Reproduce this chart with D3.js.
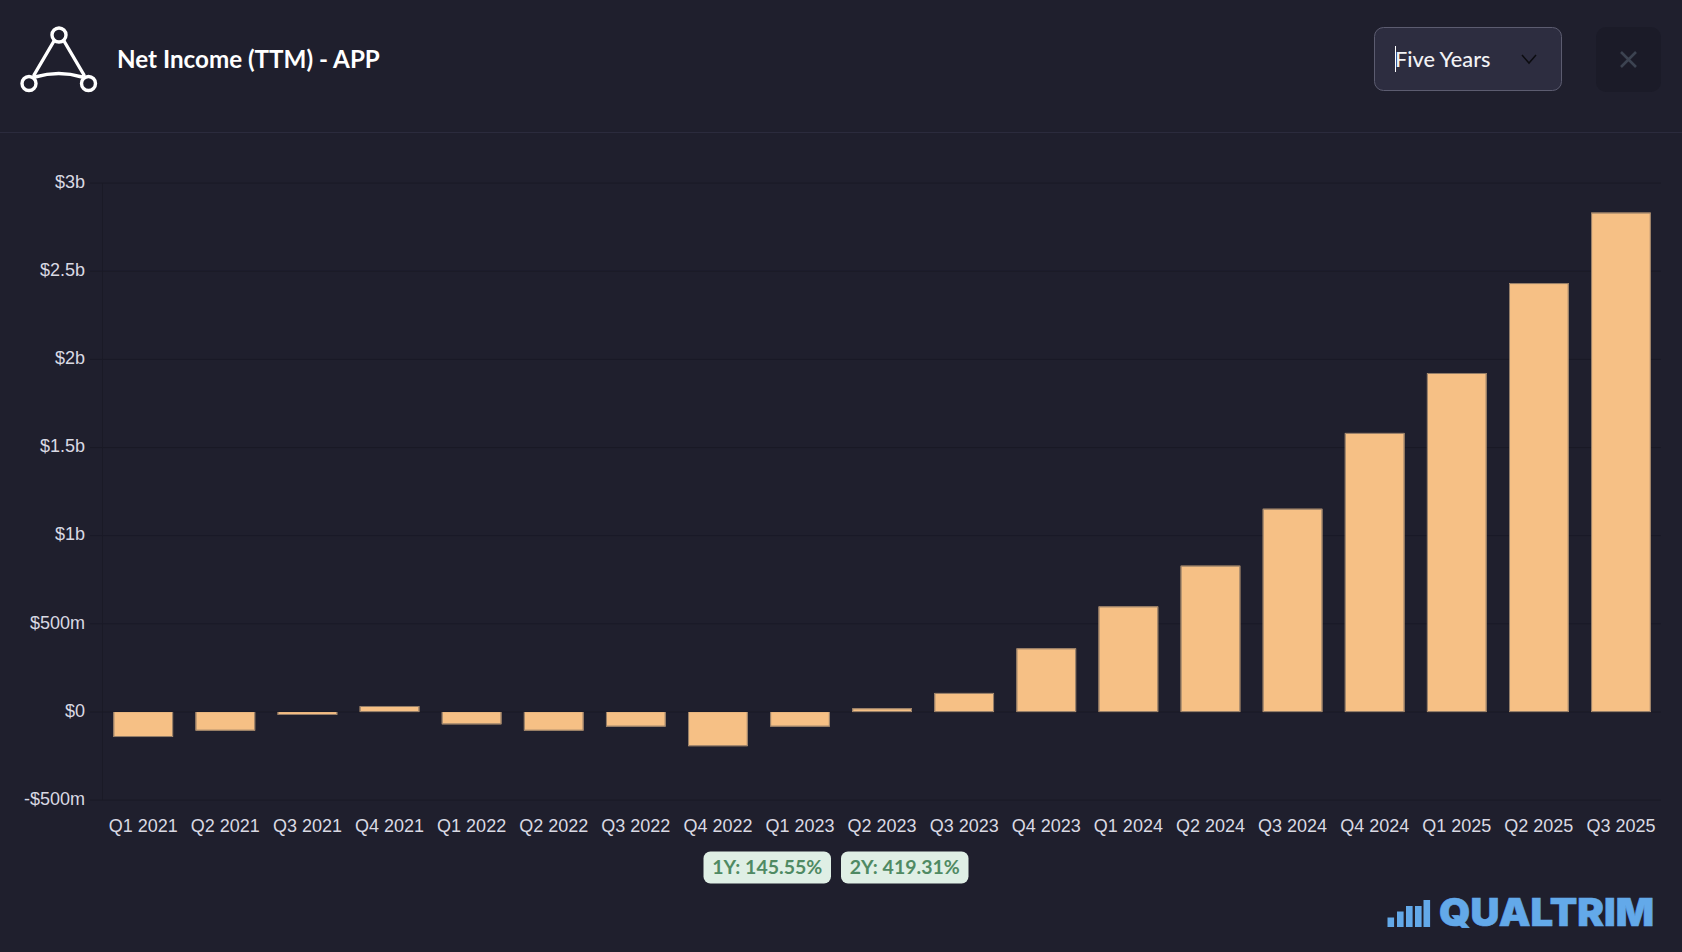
<!DOCTYPE html>
<html><head><meta charset="utf-8">
<script src="https://cdn.jsdelivr.net/npm/d3@7/dist/d3.min.js"></script>
<style>html,body{margin:0;padding:0;background:#1f1f2d;overflow:hidden}svg{display:block}</style>
</head><body><svg id="c" width="1682" height="952"></svg>
<script>
const categories=["Q1 2021","Q2 2021","Q3 2021","Q4 2021","Q1 2022","Q2 2022","Q3 2022","Q4 2022","Q1 2023","Q2 2023","Q3 2023","Q4 2023","Q1 2024","Q2 2024","Q3 2024","Q4 2024","Q1 2025","Q2 2025","Q3 2025"];
const netIncome=[-145,-109,-20,31,-73,-109,-86,-197,-86,18,105,358,596,827,1150,1580,1920,2430,2830];
const yTicks=[-500,0,500,1000,1500,2000,2500,3000];
const yTickLabels=["-$500m","$0","$500m","$1b","$1.5b","$2b","$2.5b","$3b"];
const badges=["1Y: 145.55%","2Y: 419.31%"];
const title="Net Income (TTM) - APP";
const rangeLabel="Five Years";

const svg=d3.select("#c");
const x=d3.scaleBand().domain(categories).range([102.2,1662]).paddingInner(0.273).paddingOuter(0.1365);
const y=d3.scaleLinear().domain([-500,3000]).range([799.6,182.6]);

svg.append("rect").attr("width",1682).attr("height",952).attr("fill","#1f1f2d");
svg.append("line").attr("x1",0).attr("x2",1682).attr("y1",132.5).attr("y2",132.5).attr("stroke","#2b2b3d");

// logo
const logo=svg.append("g").attr("fill","none").attr("stroke","#fff").attr("stroke-width",3.4);
logo.append("path").attr("d","M54 41L34 75M64 41L84 75M35 77Q59 70 82 77").attr("stroke-linecap","round");
[[59,35],[29,83.5],[88.5,83.5]].forEach(c=>logo.append("circle").attr("cx",c[0]).attr("cy",c[1]).attr("r",7));
svg.append("text").attr("x",117).attr("y",68).attr("fill","#fff").attr("font-family","Lato").attr("font-weight",700).attr("font-size",24.2).text(title);

// dropdown
svg.append("rect").attr("x",1374.5).attr("y",27.5).attr("width",187).attr("height",63).attr("rx",9).attr("fill","#2d2d40").attr("stroke","#5c5c70");
svg.append("text").attr("x",1395).attr("y",67).attr("fill","#f2f2f5").attr("font-family","Lato").attr("font-weight",500).attr("font-size",21.7).text(rangeLabel);
svg.append("line").attr("x1",1395.5).attr("x2",1395.5).attr("y1",46).attr("y2",72).attr("stroke","#fff").attr("stroke-width",1);
svg.append("path").attr("d","M1522 55L1529 63L1536 55").attr("fill","none").attr("stroke","#0c0c10").attr("stroke-width",1.5);
svg.append("rect").attr("x",1596).attr("y",27).attr("width",65).attr("height",65).attr("rx",10).attr("fill","#1b1b28");
svg.append("path").attr("d","M1621 52L1636 67M1636 52L1621 67").attr("stroke","#3c4351").attr("stroke-width",2.6);

// axes
const gridColor="#1a1a26", tickColor="#d9d9e3";
const yAxis=d3.axisLeft(y).tickValues(yTicks).tickFormat((d,i)=>yTickLabels[i]).tickSizeInner(12).tickSizeOuter(0).tickPadding(5);
const gy=svg.append("g").attr("transform","translate(102,0)").call(yAxis);
gy.selectAll("path.domain").attr("stroke",gridColor);
gy.selectAll(".tick line").attr("stroke",gridColor);
gy.selectAll(".tick").append("line").attr("x1",0).attr("x2",1559).attr("stroke",gridColor);
gy.selectAll("text").attr("font-family","Liberation Sans").attr("font-size",18).attr("fill",tickColor).attr("y",-1);
const xAxis=d3.axisBottom(x).tickSize(0).tickPadding(19.5);
const gx=svg.append("g").attr("transform","translate(0,800)").call(xAxis);
gx.select("path.domain").remove();
gx.selectAll("text").attr("font-family","Liberation Sans").attr("font-size",18).attr("fill",tickColor);

// bars: negative bars leave the baseline side unstroked
const base=y(0)+.6;
const bars=svg.append("g").selectAll("g").data(categories).join("g");
bars.append("rect").attr("x",d=>x(d)).attr("width",x.bandwidth())
  .attr("y",(d,i)=>netIncome[i]>=0?y(netIncome[i]):base)
  .attr("height",(d,i)=>netIncome[i]>=0?base-y(netIncome[i]):y(netIncome[i])-base)
  .attr("fill","#f6c085");
bars.append("path").attr("fill","none").attr("stroke","#917b67").attr("stroke-width",1)
  .attr("d",(d,i)=>{const v=netIncome[i],a=x(d)+.5,b=x(d)+x.bandwidth()-.5;
    if(v<0){const t=y(v)-.5;return `M${a} ${base}L${a} ${t}L${b} ${t}L${b} ${base}`;}
    const z=base-.5,t=y(v)+.5;return `M${a} ${z}L${a} ${t}L${b} ${t}L${b} ${z}Z`;});

// badges
const bx=[703.5,841];
badges.forEach((t,i)=>{
  svg.append("rect").attr("x",bx[i]).attr("y",851.5).attr("width",127.5).attr("height",32).attr("rx",7).attr("fill","#dfefe5");
  svg.append("text").attr("x",bx[i]+63.75).attr("y",874).attr("text-anchor","middle").attr("fill","#4f8a63").attr("font-family","Lato").attr("font-weight",700).attr("font-size",19.5).text(t);
});

// brand
const brand=svg.append("g").attr("fill","#63a9e9");
[[1387.5,917.5],[1397,911.5],[1406,906],[1415,906],[1423.5,900]].forEach(b=>brand.append("rect").attr("x",b[0]).attr("y",b[1]).attr("width",6.6).attr("height",927-b[1]));
brand.append("text").attr("x",1439).attr("y",926).attr("font-family","Inter").attr("font-weight",900).attr("font-size",38).attr("stroke","#63a9e9").attr("stroke-width",.6).attr("textLength",215).attr("lengthAdjust","spacingAndGlyphs").text("QUALTRIM");
</script></body></html>
